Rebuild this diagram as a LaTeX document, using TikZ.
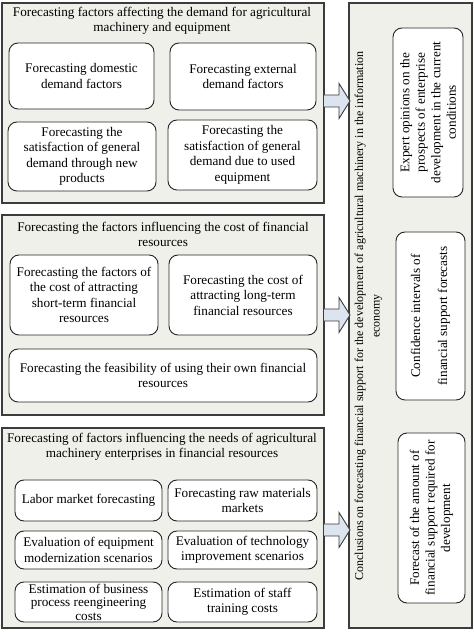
\documentclass[tikz,border=0pt]{standalone}
\usepackage{fontspec}
\setmainfont{Liberation Serif}
\usetikzlibrary{calc}
\definecolor{panelfill}{HTML}{F0F0EA}
\definecolor{panelline}{HTML}{3C3C3C}
\definecolor{arrowfill}{HTML}{DCE4F0}
\tikzset{
  panel/.style={draw=panelline, line width=1.3pt, fill=panelfill, minimum width=#1},
  subbox/.style={draw=black!85, line width=0.9pt, fill=white, rounded corners=9pt, align=center, inner sep=0.5pt,
    font=\fontsize{13.2}{15.5}\selectfont},
  ttl/.style={align=center, font=\fontsize{13.2}{15.2}\selectfont, inner sep=0pt},
  blockarrow/.style={draw=panelline, line width=0.9pt, fill=arrowfill, line join=miter},
}
\newcommand{\bigarrow}[2]{%
  \coordinate (#1s) at (324,#2);
  \draw[blockarrow] ($(#1s)+(0,6)$) -- ++(15,0) -- ++(0,11.5) -- ($(#1s)+(26,0)$)
     -- ($(#1s)+(15,-17.5)$) -- ++(0,11.5) -- ($(#1s)+(0,-6)$);
}
\begin{document}
\begin{tikzpicture}[x=1pt,y=1pt]
\useasboundingbox (0,0) rectangle (474,632);
% panels
\node[panel=322pt, minimum height=200pt] (p1) at (163,529) {};
\node[panel=322pt, minimum height=200pt] (p2) at (163,317) {};
\node[panel=322pt, minimum height=200pt] (p3) at (163,104) {};
\node[panel=123pt, minimum height=625pt] (pr) at (410.5,316.5) {};
% panel 1
\node[ttl] (t1) at (162,611.5) {Forecasting factors affecting the demand for agricultural\\machinery and equipment};
\node[subbox, minimum width=145pt, minimum height=66pt] (a) at (81.5,556) {Forecasting domestic\\demand factors};
\node[subbox, minimum width=146pt, minimum height=67pt] (b) at (243,555.5) {Forecasting external\\demand factors};
\node[subbox, minimum width=148pt, minimum height=69pt] (c) at (82,475.5) {Forecasting the\\satisfaction of general\\demand through new\\products};
\node[subbox, minimum width=149pt, minimum height=70pt] (d) at (242.5,477) {Forecasting the\\satisfaction of general\\demand due to used\\equipment};
% panel 2
\node[ttl] (t2) at (163,397.5) {Forecasting the factors influencing the cost of financial\\resources};
\node[subbox, minimum width=148pt, minimum height=80pt] (e) at (84,337) {Forecasting the factors of\\the cost of attracting\\short-term financial\\resources};
\node[subbox, minimum width=148pt, minimum height=80pt] (f) at (243,337) {Forecasting the cost of\\attracting long-term\\financial resources};
\node[subbox, minimum width=308pt, minimum height=53pt] (g) at (163,256.5) {Forecasting the feasibility of using their own financial\\resources};
% panel 3
\node[ttl] (t3) at (162,185.5) {Forecasting of factors influencing the needs of agricultural\\machinery enterprises in financial resources};
\node[subbox, minimum width=147pt, minimum height=41pt] (h) at (88.5,131.5) {Labor market forecasting};
\node[subbox, minimum width=149pt, minimum height=41pt] (i) at (242.5,131.5) {Forecasting raw materials\\markets};
\node[subbox, minimum width=147pt, minimum height=38pt] (j) at (88.5,82) {Evaluation of equipment\\modernization scenarios};
\node[subbox, minimum width=149pt, minimum height=38pt] (k) at (242.5,82) {Evaluation of technology\\improvement scenarios};
\node[subbox, minimum width=147pt, minimum height=40pt, inner sep=0pt, font=\fontsize{13.2}{13.5}\selectfont] (l) at (88.5,30) {Estimation of business\\process reengineering\\costs};
\node[subbox, minimum width=149pt, minimum height=40pt] (m) at (242.5,30) {Estimation of staff\\training costs};
% right panel
\node[ttl, rotate=90, font=\fontsize{12}{16.5}\selectfont] (tr) at (368.5,316) {Conclusions on forecasting financial support for the development of agricultural machinery in the information\\economy};
\node[subbox, rotate=90, minimum width=169pt, minimum height=70pt] (r1) at (428,519.5) {Expert opinions on the\\prospects of enterprise\\development in the current\\conditions};
\node[subbox, rotate=90, minimum width=168pt, minimum height=69pt, font=\fontsize{13.2}{27}\selectfont] (r2) at (430.5,316) {Confidence intervals of\\financial support forecasts};
\node[subbox, rotate=90, minimum width=170pt, minimum height=67pt] (r3) at (431.5,114) {Forecast of the amount of\\financial support required for\\development};
% arrows
\bigarrow{ar1}{531}
\bigarrow{ar2}{317}
\bigarrow{ar3}{102}
\end{tikzpicture}
\end{document}
